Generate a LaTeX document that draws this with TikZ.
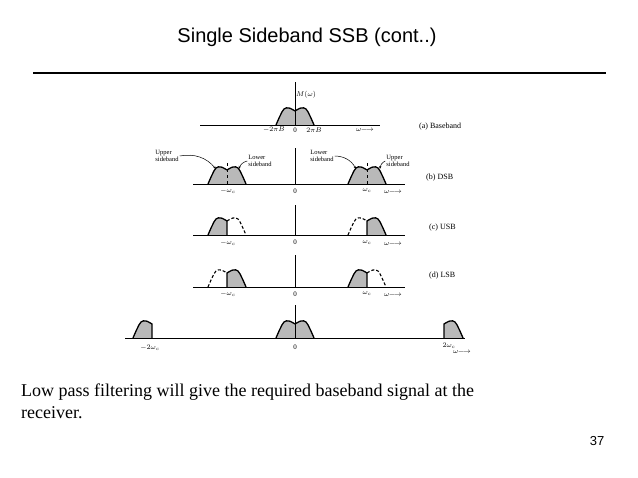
\documentclass[tikz,border=0pt]{standalone}
\usepackage{fontspec}
\setmainfont{Liberation Serif}
\newfontfamily\sansf{Liberation Sans}
\usetikzlibrary{arrows.meta}
\newcommand\LH{plot[smooth,tension=0.6] coordinates{(-19,0)(-15,9)(-11,16)(-6,17)(0,14)}}
\newcommand\RH{plot[smooth,tension=0.6] coordinates{(0,14)(6,17)(11,16)(15,9)(19,0)}}
\newcommand\RHc{-- plot[smooth,tension=0.6] coordinates{(0,14)(6,17)(11,16)(15,9)(19,0)}}
\tikzset{
  axis/.style={line width=0.9pt},
  curve/.style={line width=1.3pt},
  dcurve/.style={line width=1.1pt,dash pattern=on 3pt off 2pt},
  shade/.style={fill=gray!55},
  lbl/.style={font=\fontsize{7}{8}\selectfont,inner sep=1pt},
  partcap/.style={font=\fontsize{8}{9}\selectfont,anchor=west,inner sep=1pt},
  ann/.style={font=\fontsize{6.5}{7}\selectfont,align=left,inner sep=1pt},
  annarr/.style={-{Stealth[length=3pt]},line width=0.5pt}
}
\newcommand\fullhump[2]{%
  \fill[shade,shift={(#1,#2)}] \LH -- (0,0) -- (-19,0) -- cycle;
  \fill[shade,shift={(#1,#2)}] \RH -- (0,0) -- cycle;
  \draw[curve,shift={(#1,#2)}] \LH; \draw[curve,shift={(#1,#2)}] \RH;}
\newcommand\shL[2]{%
  \fill[shade,shift={(#1,#2)}] \LH -- (0,0) -- (-19,0) -- cycle;
  \draw[curve,shift={(#1,#2)}] \LH -- (0,0);}
\newcommand\shR[2]{%
  \fill[shade,shift={(#1,#2)}] \RH -- (0,0) -- cycle;
  \draw[curve,shift={(#1,#2)}] (0,0) \RHc;}
\newcommand\dL[2]{\draw[dcurve,shift={(#1,#2)}] \LH;}
\newcommand\dR[2]{\draw[dcurve,shift={(#1,#2)}] \RH;}
\begin{document}
\begin{tikzpicture}[x=1pt,y=1pt]
\useasboundingbox (0,0) rectangle (638,478);
\node (title) at (307,441) {\sansf\fontsize{20}{24}\selectfont Single Sideband SSB (cont..)};
\draw[line width=2pt] (33,405) -- (606,405);
% (a)
\fullhump{295}{353}
\draw[axis] (200,353) -- (380,353);
\draw[axis] (295,353) -- (295,396);
\node[lbl] (ma) at (306,383) {$M(\omega)$};
\node[lbl] (a1) at (274,348) {$-2\pi B$};
\node[lbl] (a0) at (295,348) {0};
\node[lbl] (a2) at (314,348) {$2\pi B$};
\node[lbl] (aw) at (365,348) {$\omega\!\!\longrightarrow$};
\node[partcap] (ca) at (418,351) {(a) Baseband};
% (b)
\fullhump{227}{294}\fullhump{367}{294}
\draw[dashed,line width=0.5pt] (227,294) -- (227,316) (367,294) -- (367,316);
\draw[axis] (193,294) -- (405,294);
\draw[axis] (295,294) -- (295,330);
\node[lbl] (b1) at (228,287) {$-\omega_c$};
\node[lbl] (b0) at (295,287) {0};
\node[lbl] (b2) at (367,287) {$\omega_c$};
\node[lbl] (bw) at (393,286) {$\omega\!\!\longrightarrow$};
\node[partcap] (cb) at (425,300) {(b) DSB};
\node[ann] (u1) at (167,322) {Upper\\sideband};
\node[ann] (l1) at (260,317) {Lower\\sideband};
\node[ann] (l2) at (322,322) {Lower\\sideband};
\node[ann] (u2) at (398,317) {Upper\\sideband};
\coordinate (pu1) at (216,309); \coordinate (pl1) at (239,309);
\coordinate (pl2) at (356,309); \coordinate (pu2) at (380,309);
\draw[annarr] (u1.east) to[bend left=30] (pu1);
\draw[annarr] (l1.west) to[bend right=30] (pl1);
\draw[annarr] (l2.east) to[bend left=30] (pl2);
\draw[annarr] (u2.west) to[bend right=30] (pu2);
% (c) USB
\shL{227}{243}\dR{227}{243}\dL{367}{243}\shR{367}{243}
\draw[axis] (193,243) -- (405,243);
\draw[axis] (295,243) -- (295,273);
\node[lbl] (c1) at (228,235) {$-\omega_c$};
\node[lbl] (c0) at (295,236) {0};
\node[lbl] (c2) at (367,235) {$\omega_c$};
\node[lbl] (cw) at (393,234) {$\omega\!\!\longrightarrow$};
\node[partcap] (cc) at (428,250) {(c) USB};
% (d) LSB
\dL{227}{191}\shR{227}{191}\shL{367}{191}\dR{367}{191}
\draw[axis] (193,191) -- (405,191);
\draw[axis] (295,191) -- (295,223);
\node[lbl] (d1) at (228,184) {$-\omega_c$};
\node[lbl] (d0) at (295,184) {0};
\node[lbl] (d2) at (367,184) {$\omega_c$};
\node[lbl] (dw) at (393,183) {$\omega\!\!\longrightarrow$};
\node[partcap] (cd) at (428,202) {(d) LSB};
% (e)
\fullhump{295}{140}
\shL{152}{140}\shR{444}{140}
\draw[axis] (125,140) -- (465,140);
\draw[axis] (295,140) -- (295,173);
\node[lbl] (e1) at (150,130) {$-2\omega_c$};
\node[lbl] (e0) at (295,131) {0};
\node[lbl] (e2) at (449,132) {$2\omega_c$};
\node[lbl] (ew) at (462,126) {$\omega\!\!\longrightarrow$};
% text
\node[anchor=west,inner sep=0pt,align=left,font=\fontsize{18}{22}\selectfont] (txt) at (21,77)
  {Low pass filtering will give the required baseband signal at the\\receiver.};
\node (num) at (597,37) {\sansf\fontsize{13}{15}\selectfont 37};
\end{tikzpicture}
\end{document}
